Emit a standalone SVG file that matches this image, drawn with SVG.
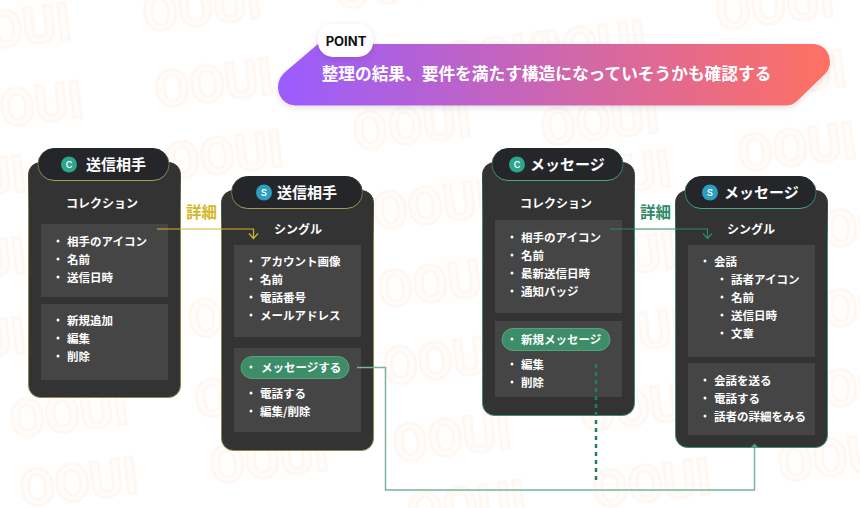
<svg xmlns="http://www.w3.org/2000/svg" width="860" height="508" viewBox="0 0 860 508">
<style>
text{font-family:"Noto Sans CJK JP","Noto Sans",sans-serif;}
.wm{font-family:"Roboto","Noto Sans",sans-serif;font-weight:700;font-size:51px;fill:#fffdfb;stroke:#fff7f2;stroke-width:3px;}
.card{fill:#333333;stroke-width:1;}
.pill{fill:#25262a;stroke-width:1;}
.panel{fill:#454545;}
.cg{stroke:url(#cgold);}
.pg{stroke:url(#pgold);}
.ct{stroke:url(#cteal);}
.pt{stroke:url(#pteal);}
.tt{fill:#fff;font-size:15px;font-weight:700;}
.sub{fill:#fff;font-size:12px;font-weight:700;text-anchor:middle;}
.li{fill:#fff;font-size:11.5px;font-weight:700;dominant-baseline:central;}
.b{fill:#fff;}
.badge{fill:#fff;font-family:"Inter",sans-serif;font-size:9px;font-weight:600;text-anchor:middle;}
.gp{fill:#3c8d68;stroke:#5fae8e;stroke-width:.8;}
.cn{fill:none;}
</style>
<defs>
<linearGradient id="g" x1="0" y1="0" x2="1" y2="0"><stop offset="0" stop-color="#9a5cff"/><stop offset="1" stop-color="#ff7061"/></linearGradient>
<linearGradient id="cgold" x1="0" y1="0" x2="0" y2="1"><stop offset="0" stop-color="#333"/><stop offset=".2" stop-color="#8f8748"/><stop offset="1" stop-color="#8f8748"/></linearGradient>
<linearGradient id="pgold" x1="0" y1="0" x2="0" y2="1"><stop offset="0" stop-color="#25262a"/><stop offset=".5" stop-color="#6f6a45"/><stop offset="1" stop-color="#a89c55"/></linearGradient>
<linearGradient id="cteal" x1="0" y1="0" x2="0" y2="1"><stop offset="0" stop-color="#333"/><stop offset=".2" stop-color="#3f8f78"/><stop offset="1" stop-color="#3f8f78"/></linearGradient>
<linearGradient id="pteal" x1="0" y1="0" x2="0" y2="1"><stop offset="0" stop-color="#25262a"/><stop offset=".5" stop-color="#2f6f5f"/><stop offset="1" stop-color="#4fa48b"/></linearGradient>
<filter id="sh" x="-10%" y="-30%" width="120%" height="170%"><feDropShadow dx="0" dy="2" stdDeviation="3" flood-color="#000" flood-opacity=".12"/></filter>
<marker id="ay" viewBox="0 0 12 12" markerWidth="12" markerHeight="12" refX="9" refY="6" orient="auto" markerUnits="userSpaceOnUse"><path d="M4 1.5L9 6L4 10.5" fill="none" stroke="#d4b82b" stroke-width="1.2"/></marker>
<marker id="ag" viewBox="0 0 12 12" markerWidth="12" markerHeight="12" refX="9" refY="6" orient="auto" markerUnits="userSpaceOnUse"><path d="M4 1.5L9 6L4 10.5" fill="none" stroke="#2f8a68" stroke-width="1.2"/></marker>
</defs>
<rect width="860" height="508" fill="#fff"/>
<g id="watermark">
<text class="wm" transform="translate(-45 53) rotate(-7)">OOUI</text>
<text class="wm" transform="translate(145 32) rotate(-7)">OOUI</text>
<text class="wm" transform="translate(157 108) rotate(-7)">OOUI</text>
<text class="wm" transform="translate(-33 131) rotate(-7)">OOUI</text>
<text class="wm" transform="translate(167 180) rotate(-7)">OOUI</text>
<text class="wm" transform="translate(355 150) rotate(-7)">OOUI</text>
<text class="wm" transform="translate(543 146) rotate(-7)">OOUI</text>
<text class="wm" transform="translate(718 30) rotate(-7)">OOUI</text>
<text class="wm" transform="translate(337 9) rotate(-7)">OOUI</text>
<text class="wm" transform="translate(530 70) rotate(-7)">OOUI</text>
<text class="wm" transform="translate(445 80) rotate(-7)">OOUI</text>
<text class="wm" transform="translate(730 100) rotate(-7)">OOUI</text>
<text class="wm" transform="translate(740 172) rotate(-7)">OOUI</text>
<text class="wm" transform="translate(-90 205) rotate(-7)">OOUI</text>
<text class="wm" transform="translate(-90 287) rotate(-7)">OOUI</text>
<text class="wm" transform="translate(-90 367) rotate(-7)">OOUI</text>
<text class="wm" transform="translate(12 438) rotate(-7)">OOUI</text>
<text class="wm" transform="translate(22 507) rotate(-7)">OOUI</text>
<text class="wm" transform="translate(212 484) rotate(-7)">OOUI</text>
<text class="wm" transform="translate(197 418) rotate(-7)">OOUI</text>
<text class="wm" transform="translate(190 338) rotate(-7)">OOUI</text>
<text class="wm" transform="translate(375 230) rotate(-7)">OOUI</text>
<text class="wm" transform="translate(380 308) rotate(-7)">OOUI</text>
<text class="wm" transform="translate(385 385) rotate(-7)">OOUI</text>
<text class="wm" transform="translate(395 462) rotate(-7)">OOUI</text>
<text class="wm" transform="translate(595 508) rotate(-7)">OOUI</text>
<text class="wm" transform="translate(410 530) rotate(-7)">OOUI</text>
<text class="wm" transform="translate(582 432) rotate(-7)">OOUI</text>
<text class="wm" transform="translate(570 358) rotate(-7)">OOUI</text>
<text class="wm" transform="translate(560 282) rotate(-7)">OOUI</text>
<text class="wm" transform="translate(555 200) rotate(-7)">OOUI</text>
<text class="wm" transform="translate(780 482) rotate(-7)">OOUI</text>
<text class="wm" transform="translate(825 248) rotate(-7)">OOUI</text>
<text class="wm" transform="translate(825 328) rotate(-7)">OOUI</text>
<text class="wm" transform="translate(825 408) rotate(-7)">OOUI</text>
</g>
<g id="point">
<path d="M322 44H812C825 44 830 54 830 62C830 67 828 71 825 74L797 101C794 104 790 105.5 786 105.5H296C285 105.5 278 97 278 87C278 82 280 77 284 73L318 44Z" fill="url(#g)" filter="url(#sh)"/>
<rect x="318" y="24" width="55" height="33" rx="15" fill="#fff" filter="url(#sh)"/>
<text x="346" y="46" fill="#111" font-size="13" font-weight="700" text-anchor="middle" style="font-family:'Inter',sans-serif">POINT</text>
<text x="546.5" y="80" fill="#fff" font-size="16.7" font-weight="700" text-anchor="middle">整理の結果、要件を満たす構造になっていそうかも確認する</text>
</g>
<g id="node-c-partner">
<rect class="card cg" x="28.5" y="162.5" width="152" height="235" rx="12"/>
<rect class="pill pg" x="38" y="148.5" width="131" height="32" rx="16"/>
<circle cx="69" cy="164.5" r="8" fill="#2ca58d"/><text class="badge" x="69" y="168">C</text>
<text class="tt" x="86" y="170">送信相手</text>
<text class="sub" x="102" y="208">コレクション</text>
<rect class="panel" x="41" y="224" width="127" height="73"/>
<rect class="panel" x="41" y="304" width="127" height="76"/>
<circle class="b" cx="58" cy="241" r="1.5"/><text class="li" x="67" y="241">相手のアイコン</text>
<circle class="b" cx="58" cy="259" r="1.5"/><text class="li" x="67" y="259">名前</text>
<circle class="b" cx="58" cy="277" r="1.5"/><text class="li" x="67" y="277">送信日時</text>
<circle class="b" cx="58" cy="320" r="1.5"/><text class="li" x="67" y="320">新規追加</text>
<circle class="b" cx="58" cy="338" r="1.5"/><text class="li" x="67" y="338">編集</text>
<circle class="b" cx="58" cy="356" r="1.5"/><text class="li" x="67" y="356">削除</text>
</g>
<g id="node-s-partner">
<rect class="card cg" x="221.5" y="190.5" width="152" height="260" rx="12"/>
<rect class="pill pg" x="231.5" y="176.5" width="131" height="32" rx="16"/>
<circle cx="264" cy="192.5" r="8" fill="#2c9fc0"/><text class="badge" x="264" y="196">S</text>
<text class="tt" x="277" y="198">送信相手</text>
<text class="sub" x="298" y="234">シングル</text>
<rect class="panel" x="234" y="245" width="127" height="92"/>
<rect class="panel" x="234" y="348" width="127" height="84"/>
<circle class="b" cx="251" cy="261" r="1.5"/><text class="li" x="260" y="261">アカウント画像</text>
<circle class="b" cx="251" cy="279" r="1.5"/><text class="li" x="260" y="279">名前</text>
<circle class="b" cx="251" cy="297" r="1.5"/><text class="li" x="260" y="297">電話番号</text>
<circle class="b" cx="251" cy="315" r="1.5"/><text class="li" x="260" y="315">メールアドレス</text>
<rect class="gp" x="241" y="356.5" width="108" height="22" rx="11"/>
<circle class="b" cx="251" cy="367" r="1.5"/><text class="li" x="261" y="367">メッセージする</text>
<circle class="b" cx="251" cy="393" r="1.5"/><text class="li" x="260" y="393">電話する</text>
<circle class="b" cx="251" cy="411" r="1.5"/><text class="li" x="260" y="411">編集/削除</text>
</g>
<g id="node-c-message">
<rect class="card ct" x="482.5" y="162.5" width="152" height="253" rx="12"/>
<rect class="pill pt" x="492" y="148.5" width="131" height="32" rx="16"/>
<circle cx="517" cy="164.5" r="8" fill="#2ca58d"/><text class="badge" x="517" y="168">C</text>
<text class="tt" x="530" y="170">メッセージ</text>
<text class="sub" x="556" y="208">コレクション</text>
<rect class="panel" x="495" y="220" width="127" height="93"/>
<rect class="panel" x="495" y="321" width="127" height="76"/>
<circle class="b" cx="512" cy="237" r="1.5"/><text class="li" x="521" y="237">相手のアイコン</text>
<circle class="b" cx="512" cy="255" r="1.5"/><text class="li" x="521" y="255">名前</text>
<circle class="b" cx="512" cy="273" r="1.5"/><text class="li" x="521" y="273">最新送信日時</text>
<circle class="b" cx="512" cy="291" r="1.5"/><text class="li" x="521" y="291">通知バッジ</text>
<rect class="gp" x="502" y="328.5" width="108" height="22" rx="11"/>
<circle class="b" cx="512" cy="339" r="1.5"/><text class="li" x="521" y="339">新規メッセージ</text>
<circle class="b" cx="512" cy="364" r="1.5"/><text class="li" x="521" y="364">編集</text>
<circle class="b" cx="512" cy="382" r="1.5"/><text class="li" x="521" y="382">削除</text>
</g>
<g id="node-s-message">
<rect class="card ct" x="675.5" y="190.5" width="152" height="257" rx="12"/>
<rect class="pill pt" x="685" y="176.5" width="131" height="32" rx="16"/>
<circle cx="710" cy="192.5" r="8" fill="#2c9fc0"/><text class="badge" x="710" y="196">S</text>
<text class="tt" x="724" y="198">メッセージ</text>
<text class="sub" x="751" y="234">シングル</text>
<rect class="panel" x="688" y="245" width="127" height="112"/>
<rect class="panel" x="688" y="363" width="127" height="72"/>
<circle class="b" cx="705" cy="261" r="1.5"/><text class="li" x="714" y="261">会話</text>
<circle class="b" cx="722" cy="279" r="1.5"/><text class="li" x="731" y="279">話者アイコン</text>
<circle class="b" cx="722" cy="297" r="1.5"/><text class="li" x="731" y="297">名前</text>
<circle class="b" cx="722" cy="315" r="1.5"/><text class="li" x="731" y="315">送信日時</text>
<circle class="b" cx="722" cy="333" r="1.5"/><text class="li" x="731" y="333">文章</text>
<circle class="b" cx="705" cy="380" r="1.5"/><text class="li" x="714" y="380">会話を送る</text>
<circle class="b" cx="705" cy="398" r="1.5"/><text class="li" x="714" y="398">電話する</text>
<circle class="b" cx="705" cy="416" r="1.5"/><text class="li" x="714" y="416">話者の詳細をみる</text>
</g>
<g id="connectors">
<path class="cn" d="M157 229H253.5V238.5" stroke="#d4b82b" stroke-width="1.2" marker-end="url(#ay)"/>
<text x="186" y="218" fill="#d4b82b" font-size="15.5" font-weight="700">詳細</text>
<path class="cn" d="M610 229H707.5V238.5" stroke="#2f8a68" stroke-width="1.2" marker-end="url(#ag)"/>
<text x="640" y="218" fill="#2f8a68" font-size="15.5" font-weight="700">詳細</text>
<path class="cn" d="M357 367.5H385.5V490H754.5V445" stroke="#7ab39e" stroke-width="1.5"/>
<path d="M750 448L754.5 443.5L759 448Z" fill="#4f9a84"/>
<path class="cn" d="M596 364V482" stroke="#1f7f62" stroke-width="2.5" stroke-dasharray="4 4"/>
</g>
</svg>
